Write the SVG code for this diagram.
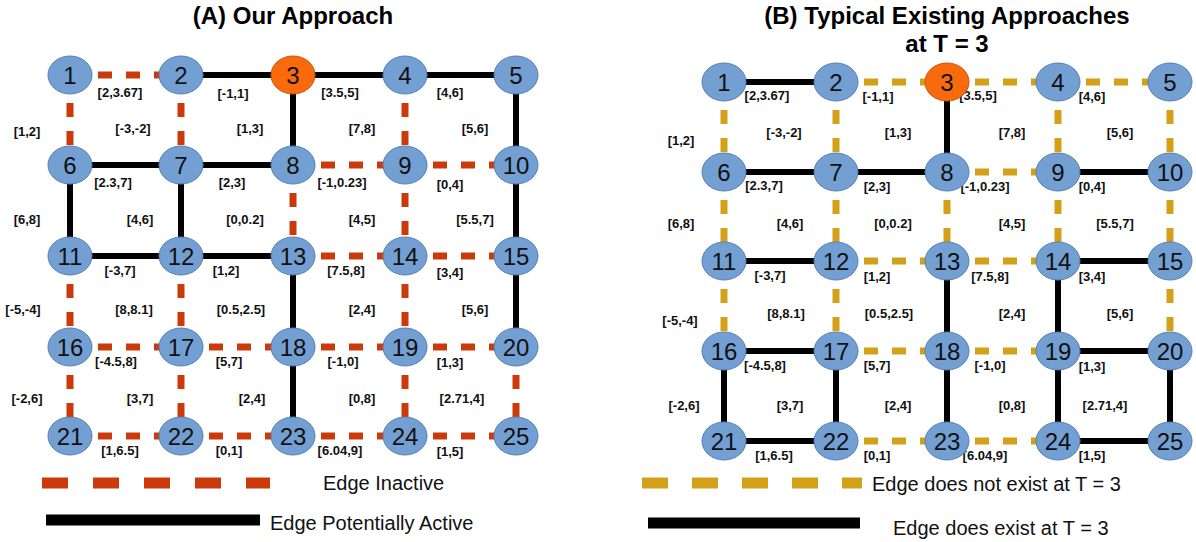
<svg xmlns="http://www.w3.org/2000/svg" width="1196" height="542" viewBox="0 0 1196 542">
<style>
.n ellipse{fill:#739fd2;stroke:#5580b5;stroke-width:1}
.n.o ellipse{fill:#f96a0c;stroke:#c85410}
.n text{font-family:"Liberation Sans",Arial,sans-serif;font-size:24px;text-anchor:middle;fill:#111}
.s{stroke:#000;stroke-width:6}
.dr{stroke:#cc3a0b;stroke-width:7;stroke-dasharray:14 14}
.dg{stroke:#d4a017;stroke-width:7;stroke-dasharray:14 14}
.l{font-family:"Liberation Sans",Arial,sans-serif;font-size:13px;font-weight:bold;text-anchor:middle;fill:#111}
.t{font-family:"Liberation Sans",Arial,sans-serif;font-size:24px;font-weight:bold;text-anchor:middle;fill:#000}
.g{font-family:"Liberation Sans",Arial,sans-serif;font-size:20px;fill:#111}
</style>
<text class="t" x="293" y="24">(A) Our Approach</text>
<text class="t" x="947" y="24">(B) Typical Existing Approaches</text>
<text class="t" x="947" y="52">at T = 3</text>
<g id="connectors">
<!-- Left panel: x 70,181,293,405,516 ; y 75,165,256,347,436 -->
<line class="dr" x1="70" y1="75" x2="181" y2="75"/>
<line class="s" x1="181" y1="75" x2="293" y2="75"/>
<line class="s" x1="293" y1="75" x2="405" y2="75"/>
<line class="s" x1="405" y1="75" x2="516" y2="75"/>
<line class="s" x1="70" y1="165" x2="181" y2="165"/>
<line class="s" x1="181" y1="165" x2="293" y2="165"/>
<line class="dr" x1="293" y1="165" x2="405" y2="165"/>
<line class="dr" x1="405" y1="165" x2="516" y2="165"/>
<line class="s" x1="70" y1="256" x2="181" y2="256"/>
<line class="s" x1="181" y1="256" x2="293" y2="256"/>
<line class="dr" x1="293" y1="256" x2="405" y2="256"/>
<line class="dr" x1="405" y1="256" x2="516" y2="256"/>
<line class="dr" x1="70" y1="347" x2="181" y2="347"/>
<line class="dr" x1="181" y1="347" x2="293" y2="347"/>
<line class="dr" x1="293" y1="347" x2="405" y2="347"/>
<line class="dr" x1="405" y1="347" x2="516" y2="347"/>
<line class="dr" x1="70" y1="436" x2="181" y2="436"/>
<line class="dr" x1="181" y1="436" x2="293" y2="436"/>
<line class="dr" x1="293" y1="436" x2="405" y2="436"/>
<line class="dr" x1="405" y1="436" x2="516" y2="436"/>
<line class="dr" x1="70" y1="75" x2="70" y2="165"/>
<line class="s" x1="70" y1="165" x2="70" y2="256"/>
<line class="dr" x1="70" y1="256" x2="70" y2="347"/>
<line class="dr" x1="70" y1="347" x2="70" y2="436"/>
<line class="dr" x1="181" y1="75" x2="181" y2="165"/>
<line class="s" x1="181" y1="165" x2="181" y2="256"/>
<line class="dr" x1="181" y1="256" x2="181" y2="347"/>
<line class="dr" x1="181" y1="347" x2="181" y2="436"/>
<line class="s" x1="293" y1="75" x2="293" y2="165"/>
<line class="dr" x1="293" y1="165" x2="293" y2="256"/>
<line class="s" x1="293" y1="256" x2="293" y2="347"/>
<line class="s" x1="293" y1="347" x2="293" y2="436"/>
<line class="dr" x1="405" y1="75" x2="405" y2="165"/>
<line class="dr" x1="405" y1="165" x2="405" y2="256"/>
<line class="dr" x1="405" y1="256" x2="405" y2="347"/>
<line class="dr" x1="405" y1="347" x2="405" y2="436"/>
<line class="s" x1="516" y1="75" x2="516" y2="165"/>
<line class="s" x1="516" y1="165" x2="516" y2="256"/>
<line class="s" x1="516" y1="256" x2="516" y2="347"/>
<line class="dr" x1="516" y1="347" x2="516" y2="436"/>
<!-- Right panel: x 724,836,947,1058,1170 ; y 82,172,261,351,441 -->
<line class="s" x1="724" y1="82" x2="836" y2="82"/>
<line class="dg" x1="836" y1="82" x2="947" y2="82"/>
<line class="dg" x1="947" y1="82" x2="1058" y2="82"/>
<line class="dg" x1="1058" y1="82" x2="1170" y2="82"/>
<line class="s" x1="724" y1="172" x2="836" y2="172"/>
<line class="s" x1="836" y1="172" x2="947" y2="172"/>
<line class="dg" x1="947" y1="172" x2="1058" y2="172"/>
<line class="s" x1="1058" y1="172" x2="1170" y2="172"/>
<line class="s" x1="724" y1="261" x2="836" y2="261"/>
<line class="dg" x1="836" y1="261" x2="947" y2="261"/>
<line class="dg" x1="947" y1="261" x2="1058" y2="261"/>
<line class="s" x1="1058" y1="261" x2="1170" y2="261"/>
<line class="s" x1="724" y1="351" x2="836" y2="351"/>
<line class="dg" x1="836" y1="351" x2="947" y2="351"/>
<line class="dg" x1="947" y1="351" x2="1058" y2="351"/>
<line class="s" x1="1058" y1="351" x2="1170" y2="351"/>
<line class="s" x1="724" y1="441" x2="836" y2="441"/>
<line class="dg" x1="836" y1="441" x2="947" y2="441"/>
<line class="dg" x1="947" y1="441" x2="1058" y2="441"/>
<line class="s" x1="1058" y1="441" x2="1170" y2="441"/>
<line class="dg" x1="724" y1="82" x2="724" y2="172"/>
<line class="dg" x1="724" y1="172" x2="724" y2="261"/>
<line class="dg" x1="724" y1="261" x2="724" y2="351"/>
<line class="s" x1="724" y1="351" x2="724" y2="441"/>
<line class="dg" x1="836" y1="82" x2="836" y2="172"/>
<line class="dg" x1="836" y1="172" x2="836" y2="261"/>
<line class="dg" x1="836" y1="261" x2="836" y2="351"/>
<line class="s" x1="836" y1="351" x2="836" y2="441"/>
<line class="s" x1="947" y1="82" x2="947" y2="172"/>
<line class="dg" x1="947" y1="172" x2="947" y2="261"/>
<line class="s" x1="947" y1="261" x2="947" y2="351"/>
<line class="s" x1="947" y1="351" x2="947" y2="441"/>
<line class="dg" x1="1058" y1="82" x2="1058" y2="172"/>
<line class="dg" x1="1058" y1="172" x2="1058" y2="261"/>
<line class="s" x1="1058" y1="261" x2="1058" y2="351"/>
<line class="s" x1="1058" y1="351" x2="1058" y2="441"/>
<line class="dg" x1="1170" y1="82" x2="1170" y2="172"/>
<line class="dg" x1="1170" y1="172" x2="1170" y2="261"/>
<line class="dg" x1="1170" y1="261" x2="1170" y2="351"/>
<line class="s" x1="1170" y1="351" x2="1170" y2="441"/>
</g>
<g id="labelsA">
<text class="l" x="120" y="97">[2,3.67]</text><text class="l" x="233" y="98">[-1,1]</text><text class="l" x="340" y="97">[3.5,5]</text><text class="l" x="450" y="97">[4,6]</text>
<text class="l" x="113" y="187">[2.3,7]</text><text class="l" x="232" y="187">[2,3]</text><text class="l" x="342" y="187">[-1,0.23]</text><text class="l" x="450" y="189">[0,4]</text>
<text class="l" x="120" y="275">[-3,7]</text><text class="l" x="226" y="275">[1,2]</text><text class="l" x="346" y="275">[7.5,8]</text><text class="l" x="450" y="277">[3,4]</text>
<text class="l" x="116" y="366">[-4.5,8]</text><text class="l" x="229" y="366">[5,7]</text><text class="l" x="343" y="366">[-1,0]</text><text class="l" x="450" y="367">[1,3]</text>
<text class="l" x="120" y="455">[1,6.5]</text><text class="l" x="229" y="455">[0,1]</text><text class="l" x="340" y="455">[6.04,9]</text><text class="l" x="450" y="456">[1,5]</text>
<text class="l" x="27" y="136">[1,2]</text><text class="l" x="133" y="133">[-3,-2]</text><text class="l" x="250" y="133">[1,3]</text><text class="l" x="362" y="133">[7,8]</text><text class="l" x="475" y="133">[5,6]</text>
<text class="l" x="27" y="224">[6,8]</text><text class="l" x="140" y="224">[4,6]</text><text class="l" x="245" y="224">[0,0.2]</text><text class="l" x="362" y="224">[4,5]</text><text class="l" x="475" y="224">[5.5,7]</text>
<text class="l" x="23" y="314">[-5,-4]</text><text class="l" x="134" y="314">[8,8.1]</text><text class="l" x="241" y="314">[0.5,2.5]</text><text class="l" x="362" y="314">[2,4]</text><text class="l" x="475" y="314">[5,6]</text>
<text class="l" x="27" y="403">[-2,6]</text><text class="l" x="140" y="403">[3,7]</text><text class="l" x="252" y="403">[2,4]</text><text class="l" x="362" y="403">[0,8]</text><text class="l" x="462" y="403">[2.71,4]</text>
</g>
<g id="labelsB">
<text class="l" x="767" y="100">[2,3.67]</text><text class="l" x="878" y="101">[-1,1]</text><text class="l" x="978" y="100">[3.5,5]</text><text class="l" x="1092" y="101">[4,6]</text>
<text class="l" x="764" y="190">[2.3,7]</text><text class="l" x="877" y="191">[2,3]</text><text class="l" x="985" y="191">[-1,0.23]</text><text class="l" x="1092" y="191">[0,4]</text>
<text class="l" x="770" y="280">[-3,7]</text><text class="l" x="877" y="281">[1,2]</text><text class="l" x="990" y="281">[7.5,8]</text><text class="l" x="1092" y="281">[3,4]</text>
<text class="l" x="765" y="370">[-4.5,8]</text><text class="l" x="877" y="370">[5,7]</text><text class="l" x="990" y="370">[-1,0]</text><text class="l" x="1092" y="371">[1,3]</text>
<text class="l" x="774" y="460">[1,6.5]</text><text class="l" x="877" y="460">[0,1]</text><text class="l" x="985" y="460">[6.04,9]</text><text class="l" x="1092" y="460">[1,5]</text>
<text class="l" x="681" y="145">[1,2]</text><text class="l" x="784" y="137">[-3,-2]</text><text class="l" x="898" y="137">[1,3]</text><text class="l" x="1012" y="137">[7,8]</text><text class="l" x="1120" y="137">[5,6]</text>
<text class="l" x="681" y="228">[6,8]</text><text class="l" x="790" y="228">[4,6]</text><text class="l" x="893" y="228">[0,0.2]</text><text class="l" x="1012" y="228">[4,5]</text><text class="l" x="1115" y="228">[5.5,7]</text>
<text class="l" x="680" y="325">[-5,-4]</text><text class="l" x="786" y="318">[8,8.1]</text><text class="l" x="889" y="318">[0.5,2.5]</text><text class="l" x="1012" y="318">[2,4]</text><text class="l" x="1120" y="318">[5,6]</text>
<text class="l" x="684" y="410">[-2,6]</text><text class="l" x="790" y="410">[3,7]</text><text class="l" x="898" y="410">[2,4]</text><text class="l" x="1012" y="410">[0,8]</text><text class="l" x="1105" y="410">[2.71,4]</text>
</g>
<g id="nodesA">
<g id="a1" class="n"><ellipse cx="70" cy="75" rx="22" ry="19"/><text x="70" y="84">1</text></g>
<g id="a2" class="n"><ellipse cx="181" cy="75" rx="22" ry="19"/><text x="181" y="84">2</text></g>
<g id="a3" class="n o"><ellipse cx="293" cy="75" rx="22" ry="19"/><text x="293" y="84">3</text></g>
<g id="a4" class="n"><ellipse cx="405" cy="75" rx="22" ry="19"/><text x="405" y="84">4</text></g>
<g id="a5" class="n"><ellipse cx="516" cy="75" rx="22" ry="19"/><text x="516" y="84">5</text></g>
<g id="a6" class="n"><ellipse cx="70" cy="165" rx="22" ry="19"/><text x="70" y="174">6</text></g>
<g id="a7" class="n"><ellipse cx="181" cy="165" rx="22" ry="19"/><text x="181" y="174">7</text></g>
<g id="a8" class="n"><ellipse cx="293" cy="165" rx="22" ry="19"/><text x="293" y="174">8</text></g>
<g id="a9" class="n"><ellipse cx="405" cy="165" rx="22" ry="19"/><text x="405" y="174">9</text></g>
<g id="a10" class="n"><ellipse cx="516" cy="165" rx="22" ry="19"/><text x="516" y="174">10</text></g>
<g id="a11" class="n"><ellipse cx="70" cy="256" rx="22" ry="19"/><text x="70" y="265">11</text></g>
<g id="a12" class="n"><ellipse cx="181" cy="256" rx="22" ry="19"/><text x="181" y="265">12</text></g>
<g id="a13" class="n"><ellipse cx="293" cy="256" rx="22" ry="19"/><text x="293" y="265">13</text></g>
<g id="a14" class="n"><ellipse cx="405" cy="256" rx="22" ry="19"/><text x="405" y="265">14</text></g>
<g id="a15" class="n"><ellipse cx="516" cy="256" rx="22" ry="19"/><text x="516" y="265">15</text></g>
<g id="a16" class="n"><ellipse cx="70" cy="347" rx="22" ry="19"/><text x="70" y="356">16</text></g>
<g id="a17" class="n"><ellipse cx="181" cy="347" rx="22" ry="19"/><text x="181" y="356">17</text></g>
<g id="a18" class="n"><ellipse cx="293" cy="347" rx="22" ry="19"/><text x="293" y="356">18</text></g>
<g id="a19" class="n"><ellipse cx="405" cy="347" rx="22" ry="19"/><text x="405" y="356">19</text></g>
<g id="a20" class="n"><ellipse cx="516" cy="347" rx="22" ry="19"/><text x="516" y="356">20</text></g>
<g id="a21" class="n"><ellipse cx="70" cy="436" rx="22" ry="19"/><text x="70" y="445">21</text></g>
<g id="a22" class="n"><ellipse cx="181" cy="436" rx="22" ry="19"/><text x="181" y="445">22</text></g>
<g id="a23" class="n"><ellipse cx="293" cy="436" rx="22" ry="19"/><text x="293" y="445">23</text></g>
<g id="a24" class="n"><ellipse cx="405" cy="436" rx="22" ry="19"/><text x="405" y="445">24</text></g>
<g id="a25" class="n"><ellipse cx="516" cy="436" rx="22" ry="19"/><text x="516" y="445">25</text></g>
</g>
<g id="nodesB">
<g id="b1" class="n"><ellipse cx="724" cy="82" rx="22" ry="19"/><text x="724" y="91">1</text></g>
<g id="b2" class="n"><ellipse cx="836" cy="82" rx="22" ry="19"/><text x="836" y="91">2</text></g>
<g id="b3" class="n o"><ellipse cx="947" cy="82" rx="22" ry="19"/><text x="947" y="91">3</text></g>
<g id="b4" class="n"><ellipse cx="1058" cy="82" rx="22" ry="19"/><text x="1058" y="91">4</text></g>
<g id="b5" class="n"><ellipse cx="1170" cy="82" rx="22" ry="19"/><text x="1170" y="91">5</text></g>
<g id="b6" class="n"><ellipse cx="724" cy="172" rx="22" ry="19"/><text x="724" y="181">6</text></g>
<g id="b7" class="n"><ellipse cx="836" cy="172" rx="22" ry="19"/><text x="836" y="181">7</text></g>
<g id="b8" class="n"><ellipse cx="947" cy="172" rx="22" ry="19"/><text x="947" y="181">8</text></g>
<g id="b9" class="n"><ellipse cx="1058" cy="172" rx="22" ry="19"/><text x="1058" y="181">9</text></g>
<g id="b10" class="n"><ellipse cx="1170" cy="172" rx="22" ry="19"/><text x="1170" y="181">10</text></g>
<g id="b11" class="n"><ellipse cx="724" cy="261" rx="22" ry="19"/><text x="724" y="270">11</text></g>
<g id="b12" class="n"><ellipse cx="836" cy="261" rx="22" ry="19"/><text x="836" y="270">12</text></g>
<g id="b13" class="n"><ellipse cx="947" cy="261" rx="22" ry="19"/><text x="947" y="270">13</text></g>
<g id="b14" class="n"><ellipse cx="1058" cy="261" rx="22" ry="19"/><text x="1058" y="270">14</text></g>
<g id="b15" class="n"><ellipse cx="1170" cy="261" rx="22" ry="19"/><text x="1170" y="270">15</text></g>
<g id="b16" class="n"><ellipse cx="724" cy="351" rx="22" ry="19"/><text x="724" y="360">16</text></g>
<g id="b17" class="n"><ellipse cx="836" cy="351" rx="22" ry="19"/><text x="836" y="360">17</text></g>
<g id="b18" class="n"><ellipse cx="947" cy="351" rx="22" ry="19"/><text x="947" y="360">18</text></g>
<g id="b19" class="n"><ellipse cx="1058" cy="351" rx="22" ry="19"/><text x="1058" y="360">19</text></g>
<g id="b20" class="n"><ellipse cx="1170" cy="351" rx="22" ry="19"/><text x="1170" y="360">20</text></g>
<g id="b21" class="n"><ellipse cx="724" cy="441" rx="22" ry="19"/><text x="724" y="450">21</text></g>
<g id="b22" class="n"><ellipse cx="836" cy="441" rx="22" ry="19"/><text x="836" y="450">22</text></g>
<g id="b23" class="n"><ellipse cx="947" cy="441" rx="22" ry="19"/><text x="947" y="450">23</text></g>
<g id="b24" class="n"><ellipse cx="1058" cy="441" rx="22" ry="19"/><text x="1058" y="450">24</text></g>
<g id="b25" class="n"><ellipse cx="1170" cy="441" rx="22" ry="19"/><text x="1170" y="450">25</text></g>
</g>
<g id="legend">
<line x1="42" y1="483" x2="270" y2="483" stroke="#cc3a0b" stroke-width="11" stroke-dasharray="26 25"/>
<text class="g" x="323" y="490">Edge Inactive</text>
<line x1="46" y1="520" x2="260" y2="520" stroke="#000" stroke-width="11"/>
<text class="g" x="270" y="530">Edge Potentially Active</text>
<line x1="642" y1="483" x2="862" y2="483" stroke="#d4a017" stroke-width="11" stroke-dasharray="26 24"/>
<text class="g" x="872" y="491">Edge does not exist at T = 3</text>
<line x1="648" y1="523" x2="860" y2="523" stroke="#000" stroke-width="11"/>
<text class="g" x="893" y="535">Edge does exist at T = 3</text>
</g>
</svg>
